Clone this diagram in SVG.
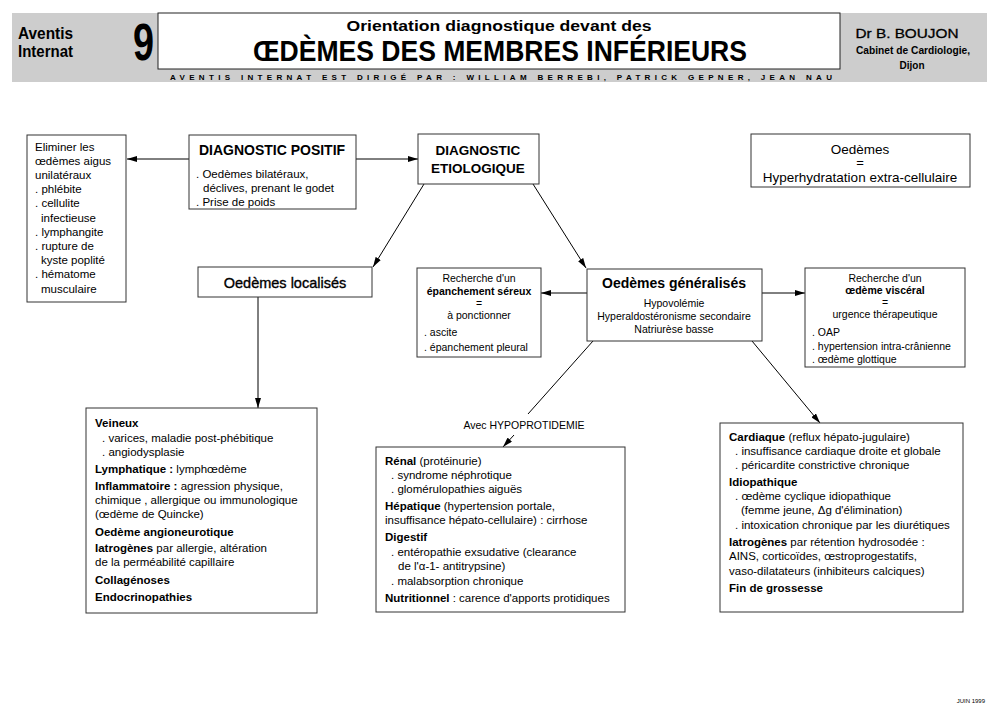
<svg xmlns="http://www.w3.org/2000/svg" width="1000" height="706" viewBox="0 0 1000 706">
<style>
text{font-family:"Liberation Sans",Arial,sans-serif;fill:#000}
.box{fill:#fff;stroke:#333;stroke-width:1}
.t{font-size:11.5px}
.s{font-size:10.5px}
.b{font-weight:bold}
.c{text-anchor:middle}
.ln{stroke:#000;stroke-width:1;fill:none}
.hd{font-weight:bold}
</style>
<defs>
<marker id="ar" viewBox="0 0 10 6" refX="10" refY="3" markerWidth="10" markerHeight="6" markerUnits="userSpaceOnUse" orient="auto">
<path d="M0,0 L10,3 L0,6 Z" fill="#000"/>
</marker>
</defs>
<rect width="1000" height="706" fill="#fff"/>

<g id="header">
<rect x="12" y="13" width="975" height="69" fill="#cdcdcd"/>
<rect x="158" y="13" width="682" height="56" fill="#fff" stroke="#222" stroke-width="1"/>
<text x="18" y="39" class="hd" font-size="17" textLength="55" lengthAdjust="spacingAndGlyphs">Aventis</text>
<text x="18" y="57" class="hd" font-size="17" textLength="55" lengthAdjust="spacingAndGlyphs">Internat</text>
<text x="133" y="60" class="hd" font-size="52" textLength="21" lengthAdjust="spacingAndGlyphs">9</text>
<text x="499" y="31" class="hd c" font-size="14.5" textLength="305" lengthAdjust="spacingAndGlyphs">Orientation diagnostique devant des</text>
<text x="500" y="61" class="hd c" font-size="29" textLength="494" lengthAdjust="spacingAndGlyphs">ŒDÈMES DES MEMBRES INFÉRIEURS</text>
<text x="170" y="80" class="hd" font-size="8" textLength="662" lengthAdjust="spacing">AVENTIS INTERNAT EST DIRIGÉ PAR : WILLIAM BERREBI,   PATRICK GEPNER,   JEAN NAU</text>
<text x="907" y="38" class="c" font-size="13" textLength="103" lengthAdjust="spacingAndGlyphs" stroke="#000" stroke-width="0.3">Dr B. BOUJON</text>
<text x="913" y="54" class="hd c" font-size="10" textLength="114" lengthAdjust="spacingAndGlyphs">Cabinet de Cardiologie,</text>
<text x="912" y="69" class="hd c" font-size="10">Dijon</text>
</g>

<g id="connectors">
<line class="ln" x1="189" y1="159" x2="127" y2="159" marker-end="url(#ar)"/>
<line class="ln" x1="356" y1="159" x2="418" y2="159" marker-end="url(#ar)"/>
<line class="ln" x1="424" y1="184" x2="373" y2="267" marker-end="url(#ar)"/>
<line class="ln" x1="533" y1="184" x2="586" y2="268" marker-end="url(#ar)"/>
<line class="ln" x1="258" y1="297" x2="258" y2="408" marker-end="url(#ar)"/>
<line class="ln" x1="587" y1="293" x2="541" y2="293" marker-end="url(#ar)"/>
<line class="ln" x1="762" y1="293" x2="805" y2="293" marker-end="url(#ar)"/>
<line class="ln" x1="593" y1="341" x2="528" y2="414"/>
<line class="ln" x1="514" y1="435" x2="503" y2="447" marker-end="url(#ar)"/>
<line class="ln" x1="752" y1="341" x2="820" y2="423" marker-end="url(#ar)"/>
<text x="524" y="429" class="s c">Avec HYPOPROTIDEMIE</text>
</g>

<g id="eliminer">
<rect class="box" x="27" y="135" width="99" height="167"/>
<text class="t" x="35" y="151">Eliminer les</text>
<text class="t" x="35" y="165">œdèmes aigus</text>
<text class="t" x="35" y="179">unilatéraux</text>
<text class="t" x="35" y="193">. phlébite</text>
<text class="t" x="35" y="207">. cellulite</text>
<text class="t" x="41" y="222">infectieuse</text>
<text class="t" x="35" y="236">. lymphangite</text>
<text class="t" x="35" y="250">. rupture de</text>
<text class="t" x="41" y="264">kyste poplité</text>
<text class="t" x="35" y="278">. hématome</text>
<text class="t" x="41" y="293">musculaire</text>
</g>

<g id="diag-positif">
<rect class="box" x="189" y="135" width="167" height="74"/>
<text x="272" y="155" class="b c" font-size="14">DIAGNOSTIC POSITIF</text>
<text class="t" x="196" y="178">. Oedèmes bilatéraux,</text>
<text class="t" x="203" y="192">déclives, prenant le godet</text>
<text class="t" x="196" y="206">. Prise de poids</text>
</g>

<g id="diag-etiologique">
<rect class="box" x="418" y="134" width="121" height="50"/>
<text x="478" y="155" class="b c" font-size="13.5">DIAGNOSTIC</text>
<text x="478" y="173" class="b c" font-size="13.5">ETIOLOGIQUE</text>
</g>

<g id="definition">
<rect class="box" x="751" y="134" width="219" height="53"/>
<text x="860" y="154" class="c" font-size="13.5">Oedèmes</text>
<text x="860" y="167" class="c" font-size="13">=</text>
<text x="860" y="182" class="c" font-size="13.5">Hyperhydratation extra-cellulaire</text>
</g>

<g id="localises">
<rect class="box" x="198" y="267" width="174" height="30"/>
<text x="285" y="288" class="c" font-size="14.5" stroke="#000" stroke-width="0.35">Oedèmes localisés</text>
</g>

<g id="generalises">
<rect class="box" x="587" y="269" width="175" height="72"/>
<text x="674" y="288" class="b c" font-size="14">Oedèmes généralisés</text>
<text x="674" y="307" class="s c">Hypovolémie</text>
<text x="674" y="320" class="s c">Hyperaldostéronisme secondaire</text>
<text x="674" y="333" class="s c">Natriurèse basse</text>
</g>

<g id="epanchement">
<rect class="box" x="417" y="268" width="124" height="89"/>
<text x="479" y="282" class="s c">Recherche d'un</text>
<text x="479" y="295" class="s c b">épanchement séreux</text>
<text x="479" y="307" class="s c">=</text>
<text x="479" y="319" class="s c">à ponctionner</text>
<text x="424" y="336" class="s">. ascite</text>
<text x="424" y="351" class="s">. épanchement pleural</text>
</g>

<g id="visceral">
<rect class="box" x="805" y="268" width="160" height="99"/>
<text x="885" y="282" class="s c">Recherche d'un</text>
<text x="885" y="294" class="s c b">œdème viscéral</text>
<text x="885" y="306" class="s c">=</text>
<text x="885" y="318" class="s c">urgence thérapeutique</text>
<text x="812" y="336" class="s">. OAP</text>
<text x="812" y="350" class="s">. hypertension intra-crânienne</text>
<text x="812" y="363" class="s">. œdème glottique</text>
</g>

<g id="causes-localises">
<rect class="box" x="86" y="408" width="231" height="205"/>
<text class="t b" x="95" y="427">Veineux</text>
<text class="t" x="102" y="442">. varices, maladie post-phébitique</text>
<text class="t" x="102" y="456">. angiodysplasie</text>
<text class="t" x="95" y="473"><tspan class="b">Lymphatique :</tspan> lymphœdème</text>
<text class="t" x="95" y="490"><tspan class="b">Inflammatoire :</tspan> agression physique,</text>
<text class="t" x="95" y="504">chimique , allergique ou immunologique</text>
<text class="t" x="95" y="518">(œdème de Quincke)</text>
<text class="t b" x="95" y="536">Oedème angioneurotique</text>
<text class="t" x="95" y="552"><tspan class="b">Iatrogènes</tspan> par allergie, altération</text>
<text class="t" x="95" y="566">de la perméabilité capillaire</text>
<text class="t b" x="95" y="584">Collagénoses</text>
<text class="t b" x="95" y="601">Endocrinopathies</text>
</g>

<g id="causes-hypoprotidemie">
<rect class="box" x="376" y="447" width="249" height="165"/>
<text class="t" x="385" y="465"><tspan class="b">Rénal</tspan> (protéinurie)</text>
<text class="t" x="391" y="479">. syndrome néphrotique</text>
<text class="t" x="391" y="493">. glomérulopathies aiguës</text>
<text class="t" x="385" y="510"><tspan class="b">Hépatique</tspan> (hypertension portale,</text>
<text class="t" x="385" y="524">insuffisance hépato-cellulaire) : cirrhose</text>
<text class="t b" x="385" y="541">Digestif</text>
<text class="t" x="391" y="556">. entéropathie exsudative (clearance</text>
<text class="t" x="398" y="570">de l'α-1- antitrypsine)</text>
<text class="t" x="391" y="585">. malabsorption chronique</text>
<text class="t" x="385" y="602"><tspan class="b">Nutritionnel</tspan> : carence d'apports protidiques</text>
</g>

<g id="causes-generalises">
<rect class="box" x="720" y="423" width="243" height="189"/>
<text class="t" x="729" y="441"><tspan class="b">Cardiaque</tspan> (reflux hépato-jugulaire)</text>
<text class="t" x="735" y="455">. insuffisance cardiaque droite et globale</text>
<text class="t" x="735" y="469">. péricardite constrictive chronique</text>
<text class="t b" x="729" y="486">Idiopathique</text>
<text class="t" x="735" y="500">. œdème cyclique idiopathique</text>
<text class="t" x="741" y="514">(femme jeune, Δg d'élimination)</text>
<text class="t" x="735" y="529">. intoxication chronique par les diurétiques</text>
<text class="t" x="729" y="546"><tspan class="b">Iatrogènes</tspan> par rétention hydrosodée :</text>
<text class="t" x="729" y="560">AINS, corticoïdes, œstroprogestatifs,</text>
<text class="t" x="729" y="575">vaso-dilatateurs (inhibiteurs calciques)</text>
<text class="t b" x="729" y="592">Fin de grossesse</text>
</g>

<text x="985" y="703" font-size="6" text-anchor="end">JUIN 1999</text>
</svg>
